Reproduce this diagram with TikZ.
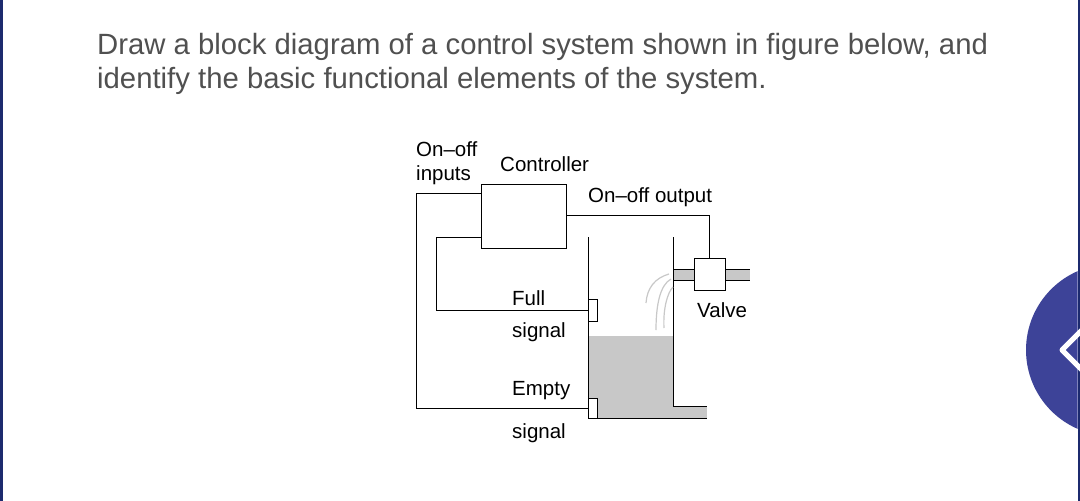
\documentclass[tikz,border=0pt]{standalone}
\usepackage{fontspec}
\setmainfont{Liberation Sans}
\definecolor{ttl}{HTML}{505050}
\definecolor{navy}{HTML}{1C2A6E}
\definecolor{disc}{HTML}{3D4398}
\definecolor{water}{HTML}{C8C8C8}
\begin{document}
\begin{tikzpicture}[x=1pt,y=-1pt,
  wire/.style={line width=0.8pt,black},
  lbl/.style={anchor=base west,inner sep=0pt,font=\fontsize{20.5}{24}\selectfont},
  stream/.style={line width=1.2pt,color=water}]
\useasboundingbox (0,0) rectangle (1080,501);
\fill[white] (0,0) rectangle (1080,501);
\fill[navy] (0,0) rectangle (2.5,501);
\fill[navy] (1077.5,0) rectangle (1080,501);
\begin{scope}
\clip (0,0) rectangle (1077.5,501);
\fill[disc] (1112,350) circle (86);
\end{scope}
\draw[white,line width=5pt,line cap=round,line join=round] (1082,330) -- (1062,350) -- (1082,370);
\node[anchor=base west,inner sep=0pt,text=ttl,font=\fontsize{29.3}{33}\selectfont] (title) at (97,54)
 {Draw a block diagram of a control system shown in figure below, and};
\node[anchor=base west,inner sep=0pt,text=ttl,font=\fontsize{29.3}{33}\selectfont] (title2) at (97,88)
 {identify the basic functional elements of the system.};
% water and pipes
\fill[water] (588,336) rectangle (673,418);
\fill[water] (673,406) rectangle (707,418);
\fill[water] (673,269) rectangle (750,280);
\draw[wire] (588,237) -- (588,418) -- (707,418);
\draw[wire] (673,237) -- (673,406) -- (707,406);
\draw[wire] (673,269) -- (750,269);
\draw[wire] (673,280) -- (750,280);
% streams
\draw[stream] (669,274) .. controls (655,278) and (647,288) .. (646,303);
\draw[stream] (671,279) .. controls (660,285) and (656,305) .. (656,330);
\draw[stream] (673,287) .. controls (667,293) and (663,310) .. (664,328);
% boxes
\node[draw,line width=0.8pt,fill=white,minimum width=85pt,minimum height=64pt,inner sep=0pt] (ctrl) at (523.5,216) {};
\node[draw,line width=0.8pt,fill=white,minimum width=31pt,minimum height=32pt,inner sep=0pt] (valve) at (709.5,274) {};
\node[draw,line width=0.8pt,fill=white,minimum width=9pt,minimum height=22pt,inner sep=0pt,anchor=west] (full) at (588,310) {};
\node[draw,line width=0.8pt,fill=white,minimum width=9pt,minimum height=20pt,inner sep=0pt,anchor=west] (empty) at (588,408) {};
\coordinate (c1) at (416,193);
\coordinate (c2) at (436,237);
\draw[wire] (ctrl.west |- c1) -- (c1) |- (empty.west);
\draw[wire] (ctrl.west |- c2) -- (c2) |- (full.west);
\draw[wire] (ctrl.east |- 0,215) -| (valve.north);
% labels
\node[lbl] (l1) at (416,156) {On–off};
\node[lbl] (l2) at (416,180) {inputs};
\node[lbl] (l3) at (500,171) {Controller};
\node[lbl] (l4) at (588,202) {On–off output};
\node[lbl] (l5) at (512,305) {Full};
\node[lbl] (l6) at (512,337) {signal};
\node[lbl] (l7) at (512,395) {Empty};
\node[lbl] (l8) at (512,438) {signal};
\node[lbl] (l9) at (697,317) {Valve};
\end{tikzpicture}
\end{document}
